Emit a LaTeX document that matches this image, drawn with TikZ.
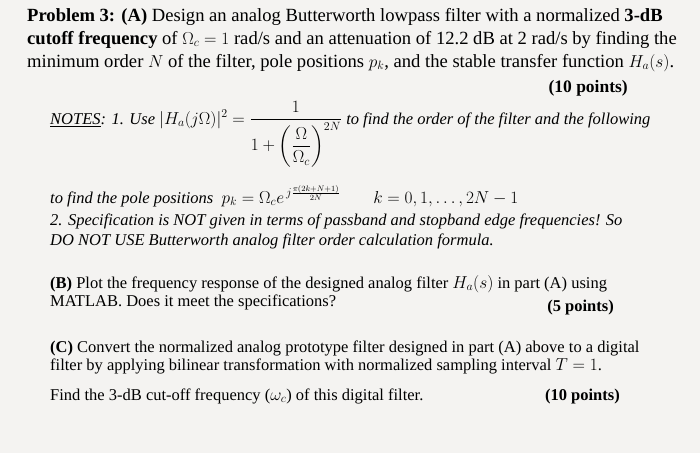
\documentclass[tikz,border=0pt]{standalone}
\usepackage{amsmath}
\usepackage{fontspec}
\setmainfont{Liberation Serif}
\begin{document}
\begin{tikzpicture}[x=1pt,y=1pt,
  ln/.style={anchor=base west,inner sep=0pt,font=\fontsize{16.5}{19}\selectfont},
  lt/.style={anchor=base west,inner sep=0pt,font=\fontsize{18.6}{21}\selectfont},
  lr/.style={anchor=base east,inner sep=0pt,font=\fontsize{16.5}{19}\selectfont}]
\fill[color={rgb,255:red,244;green,243;blue,241}] (0,0) rectangle (700,-453);
\useasboundingbox (0,0) rectangle (700,-453);
\node[lt] (l1) at (27,-21) {\textbf{Problem 3: (A)} Design an analog Butterworth lowpass filter with a normalized \textbf{3-dB}};
\node[lt] (l2) at (27,-44) {\textbf{cutoff frequency} of $\Omega_c=1$ rad/s and an attenuation of 12.2 dB at 2 rad/s by finding the};
\node[lt] (l3) at (27,-67) {minimum order $N$ of the filter, pole positions $p_k$, and the stable transfer function $H_a(s)$.};
\node[lr,font=\fontsize{17.5}{20}\selectfont] (p1) at (628,-92) {\textbf{(10 points)}};
\node[ln] (n1) at (50,-124) {\textit{\underline{NOTES}: 1. Use} $|H_a(j\Omega)|^2=\dfrac{1}{1+\left(\dfrac{\Omega}{\Omega_c}\right)^{2N}}$ \textit{to find the order of the filter and the following}};
\node[ln] (n2) at (50,-203) {\textit{to find the pole positions} \ $p_k=\Omega_c e^{\,j\frac{\pi(2k+N+1)}{2N}}$\qquad $k=0,1,\ldots,2N-1$};
\node[ln] (n3) at (50,-225) {\textit{2. Specification is NOT given in terms of passband and stopband edge frequencies! So}};
\node[ln] (n4) at (50,-245) {\textit{DO NOT USE Butterworth analog filter order calculation formula.}};
\node[ln] (b1) at (50,-288) {\textbf{(B)} Plot the frequency response of the designed analog filter $H_a(s)$ in part (A) using};
\node[ln] (b2) at (50,-306) {MATLAB. Does it meet the specifications?};
\node[lr] (p2) at (614,-311) {\textbf{(5 points)}};
\node[ln] (c1) at (50,-352) {\textbf{(C)} Convert the normalized analog prototype filter designed in part (A) above to a digital};
\node[ln] (c2) at (50,-370) {filter by applying bilinear transformation with normalized sampling interval $T=1$.};
\node[ln] (c3) at (50,-400) {Find the 3-dB cut-off frequency ($\omega_c$) of this digital filter.};
\node[lr] (p3) at (620,-400) {\textbf{(10 points)}};
\end{tikzpicture}
\end{document}
